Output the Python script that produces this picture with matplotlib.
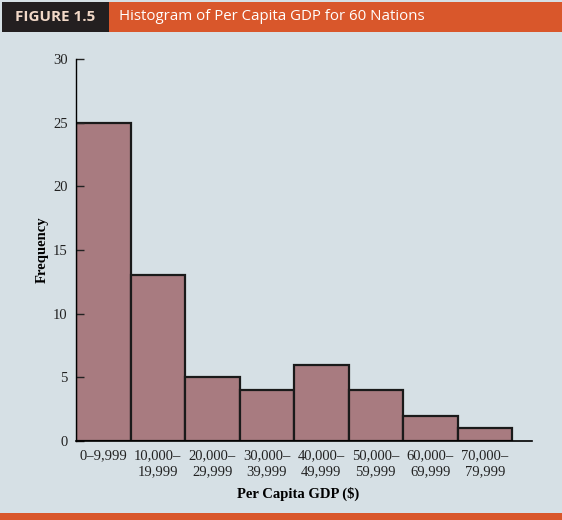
import matplotlib
matplotlib.use("Agg")
import matplotlib.pyplot as plt
from matplotlib.patches import Rectangle

categories = ["0–9,999", "10,000–\n19,999", "20,000–\n29,999", "30,000–\n39,999",
              "40,000–\n49,999", "50,000–\n59,999", "60,000–\n69,999", "70,000–\n79,999"]
frequency = [25, 13, 5, 4, 6, 4, 2, 1]
yticks = [0, 5, 10, 15, 20, 25, 30]

BG = "#d6e0e5"
ORANGE = "#d9572b"
DARK = "#231f20"
BAR = "#a87b80"

fig = plt.figure(figsize=(5.62, 5.20), dpi=100)
fig.patch.set_facecolor(BG)

# header
fig.patches.append(Rectangle((2/562, 1 - 32/520), 107/562, 30/520, transform=fig.transFigure,
                             facecolor=DARK, edgecolor="none"))
fig.patches.append(Rectangle((109/562, 1 - 32/520), 453/562, 30/520, transform=fig.transFigure,
                             facecolor=ORANGE, edgecolor="none"))
fig.patches.append(Rectangle((0, 0), 1, 7.5/520, transform=fig.transFigure,
                             facecolor=ORANGE, edgecolor="none"))
fig.text(15/562, 1 - 17/520, "FIGURE 1.5", fontsize=11, fontweight="bold", color="#f2d9c8",
         family="Open Sans", va="center", ha="left")
fig.text(119/562, 1 - 17/520, "Histogram of Per Capita GDP for 60 Nations", fontsize=10.8,
         color="white", family="Open Sans", va="center", ha="left")

W = 532 - 76
H = 441 - 59
ax = fig.add_axes([76/562, 1 - 441/520, W/562, H/520])
ax.set_facecolor(BG)
x = list(range(len(frequency)))
ax.bar([i + 0.5 for i in x], frequency, width=1.0, color=BAR, edgecolor="#1a1a1a", linewidth=1.6)
ax.set_xlim(0, W / 54.5)
ax.set_ylim(0, 30)
ax.set_yticks(yticks)
ax.set_yticklabels([str(t) for t in yticks], family="Liberation Serif", fontsize=10.5, color="#222222")
ax.set_xticks([i + 0.5 for i in x])
ax.set_xticklabels(categories, family="Liberation Serif", fontsize=10.5, color="#222222", linespacing=1.25)
ax.tick_params(axis="y", direction="in", length=6, width=1, pad=6, colors="#222222")
ax.tick_params(axis="x", length=0, pad=6)
for s in ["top", "right"]:
    ax.spines[s].set_visible(False)
ax.spines["left"].set_linewidth(1)
ax.spines["bottom"].set_linewidth(1.2)
ax.set_ylabel("Frequency", family="Liberation Serif", fontsize=10.5, fontweight="bold")
ax.yaxis.set_label_coords(-27 / W, 0.5)
ax.set_xlabel("Per Capita GDP ($)", family="Liberation Serif", fontsize=10.5, fontweight="bold")
ax.xaxis.set_label_coords((298 - 76) / W, -46 / H)

fig.savefig("out.png", dpi=100, facecolor=fig.get_facecolor())
